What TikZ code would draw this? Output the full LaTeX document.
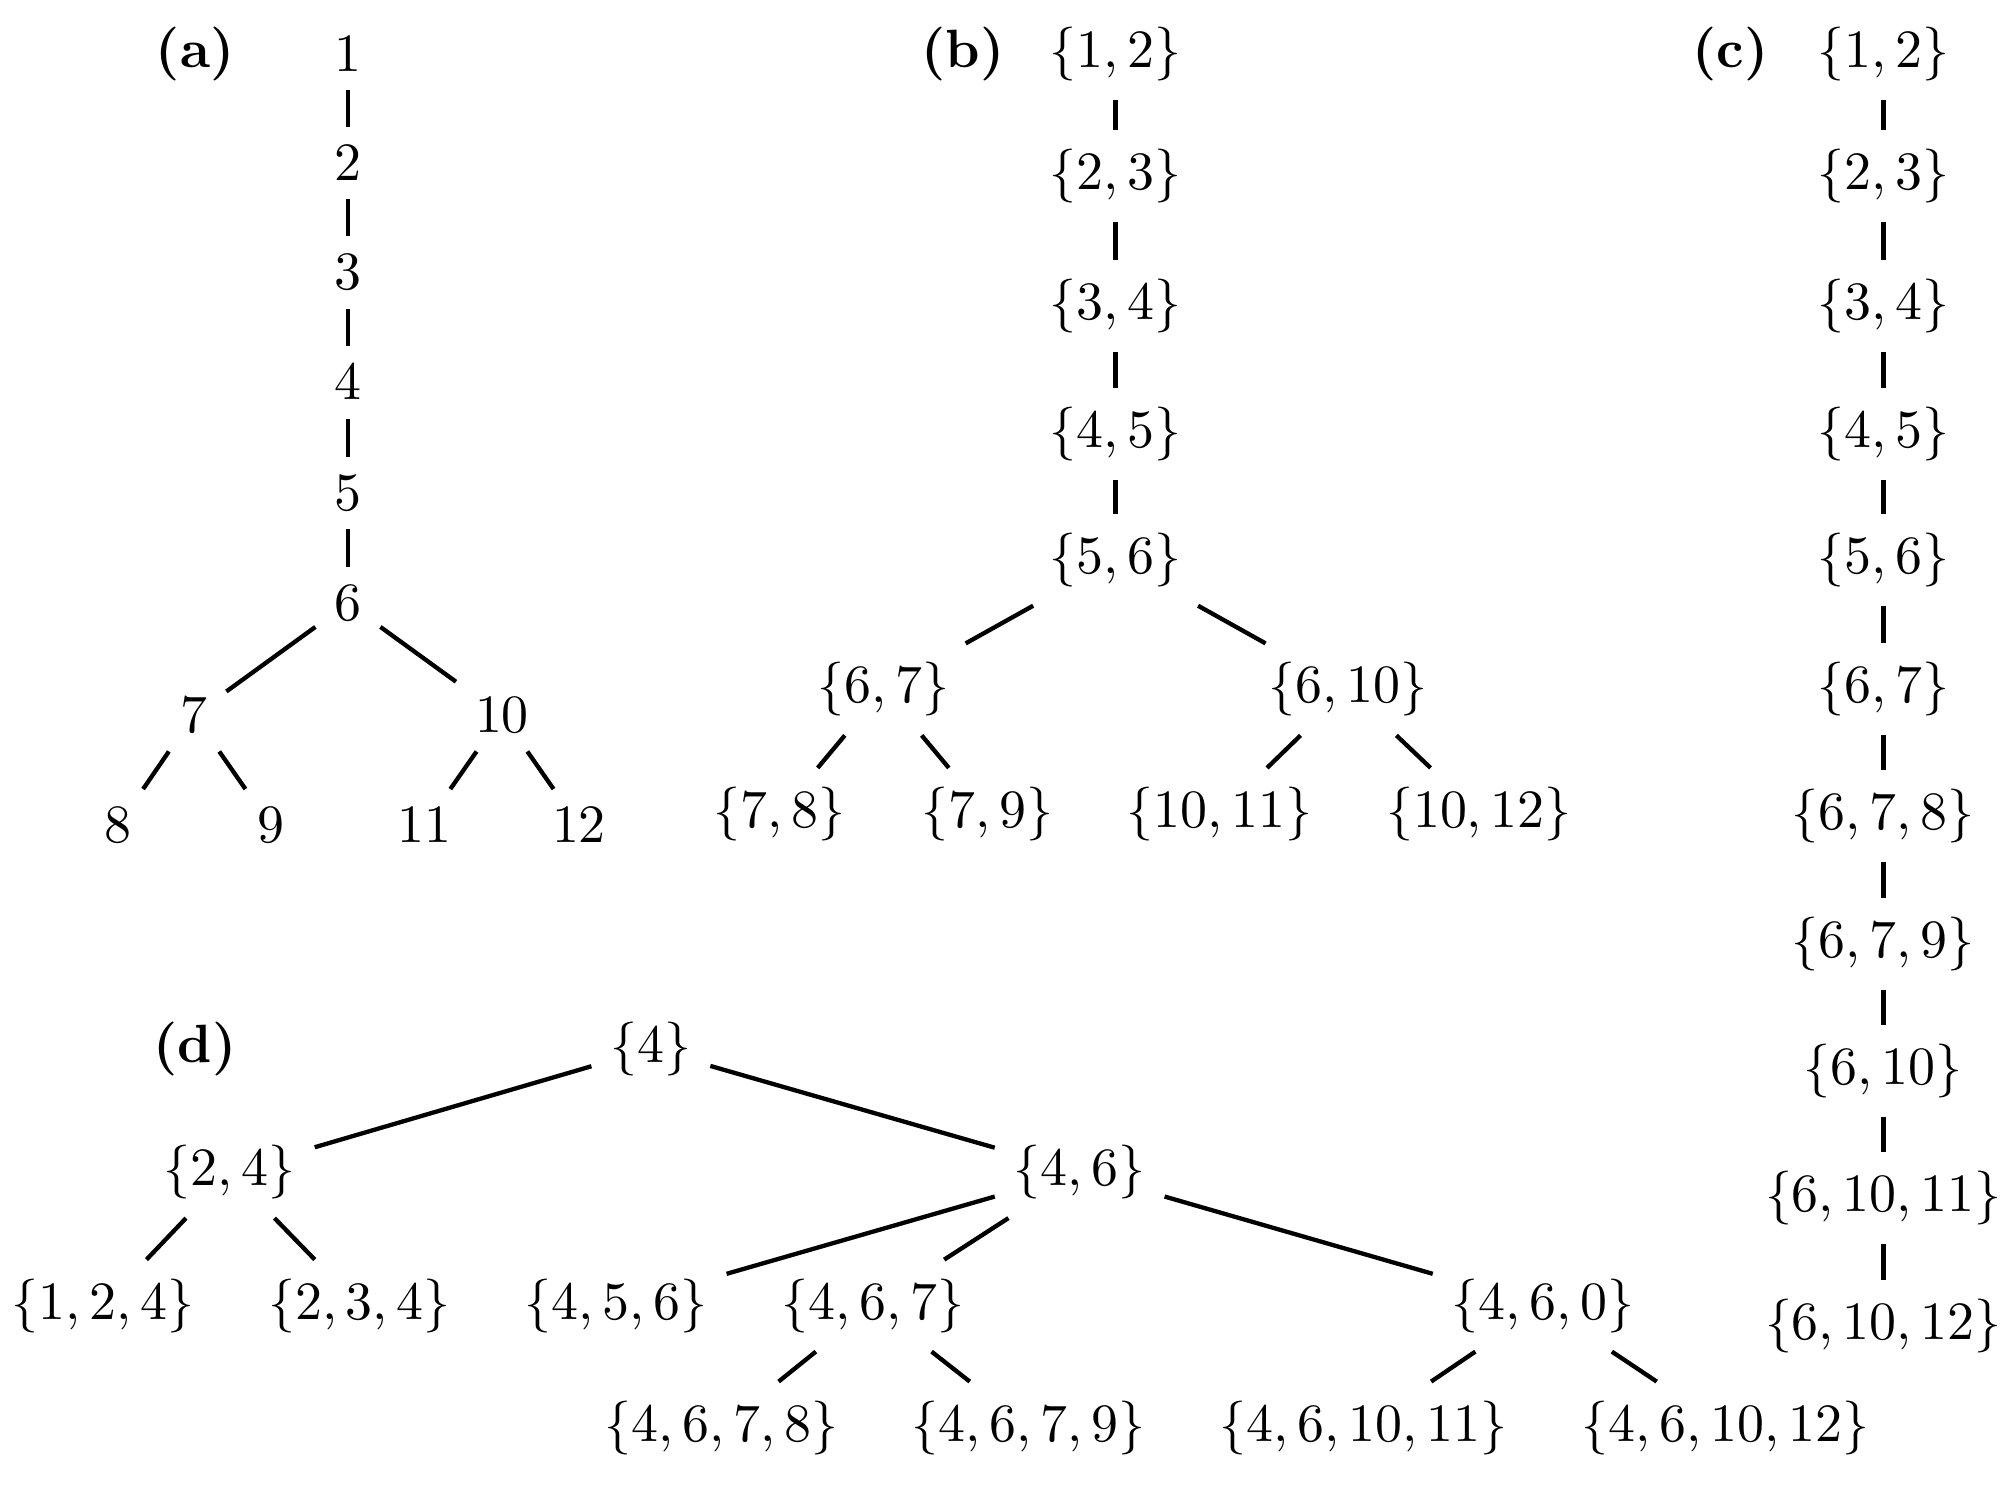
\documentclass[tikz,border=0pt]{standalone}
\usepackage{amsmath, amssymb}
\usetikzlibrary{positioning}

\begin{document}
\begin{tikzpicture}[
	x=0.0837cm, y=-0.0837cm, every node/.style={scale=1},
  tag/.style = {font=\bfseries},
  link/.style = {thick}
  ]
	\useasboundingbox (0,0) rectangle (156.8,115.6);

	% (a) tree on the vertices
	\node[tag] (ta) at (15.2,4.2) {(a)};
	\node (a1)  at (27.1, 4.2) {$1$};
	\node (a2)  at (27.1,12.7) {$2$};
	\node (a3)  at (27.1,21.2) {$3$};
	\node (a4)  at (27.1,29.8) {$4$};
	\node (a5)  at (27.1,38.4) {$5$};
	\node (a6)  at (27.1,47.0) {$6$};
	\node (a7)  at (15.1,55.7) {$7$};
	\node (a10) at (39.1,55.7) {$10$};
	\node (a8)  at ( 9.2,64.3) {$8$};
	\node (a9)  at (21.1,64.3) {$9$};
	\node (a11) at (33.1,64.3) {$11$};
	\node (a12) at (45.1,64.3) {$12$};

	\draw[link] (a1) -- (a2);
	\draw[link] (a2) -- (a3);
	\draw[link] (a3) -- (a4);
	\draw[link] (a4) -- (a5);
	\draw[link] (a5) -- (a6);
	\draw[link] (a6) -- (a7);
	\draw[link] (a6) -- (a10);
	\draw[link] (a7) -- (a8);
	\draw[link] (a7) -- (a9);
	\draw[link] (a10) -- (a11);
	\draw[link] (a10) -- (a12);

	% (b) tree on the edges
	\node[tag] (tb) at (75.0,4.2) {(b)};
	\node (b12)   at ( 86.9, 4.2) {$\{1,2\}$};
	\node (b23)   at ( 86.9,13.7) {$\{2,3\}$};
	\node (b34)   at ( 86.9,23.8) {$\{3,4\}$};
	\node (b45)   at ( 86.9,33.8) {$\{4,5\}$};
	\node (b56)   at ( 86.9,43.6) {$\{5,6\}$};
	\node (b67)   at ( 68.8,53.7) {$\{6,7\}$};
	\node (b610)  at (105.0,53.7) {$\{6,10\}$};
	\node (b78)   at ( 60.7,63.4) {$\{7,8\}$};
	\node (b79)   at ( 76.9,63.4) {$\{7,9\}$};
	\node (b1011) at ( 95.0,63.4) {$\{10,11\}$};
	\node (b1012) at (115.2,63.4) {$\{10,12\}$};

	\draw[link] (b12) -- (b23);
	\draw[link] (b23) -- (b34);
	\draw[link] (b34) -- (b45);
	\draw[link] (b45) -- (b56);
	\draw[link] (b56) -- (b67);
	\draw[link] (b56) -- (b610);
	\draw[link] (b67) -- (b78);
	\draw[link] (b67) -- (b79);
	\draw[link] (b610) -- (b1011);
	\draw[link] (b610) -- (b1012);

	% (c) path
	\node[tag] (tc) at (134.8,4.2) {(c)};
	\node (c1)  at (146.7,  4.2) {$\{1,2\}$};
	\node (c2)  at (146.7, 13.7) {$\{2,3\}$};
	\node (c3)  at (146.7, 23.8) {$\{3,4\}$};
	\node (c4)  at (146.7, 33.8) {$\{4,5\}$};
	\node (c5)  at (146.7, 43.6) {$\{5,6\}$};
	\node (c6)  at (146.7, 53.7) {$\{6,7\}$};
	\node (c7)  at (146.7, 63.6) {$\{6,7,8\}$};
	\node (c8)  at (146.7, 73.5) {$\{6,7,9\}$};
	\node (c9)  at (146.7, 83.4) {$\{6,10\}$};
	\node (c10) at (146.7, 93.3) {$\{6,10,11\}$};
	\node (c11) at (146.7,103.3) {$\{6,10,12\}$};

	\foreach \i [count=\j from 2] in {1,...,10}
		\draw[link] (c\i) -- (c\j);

	% (d) tree of separators
	\node[tag] (td) at (15.2,81.7) {(d)};
	\node (d4)      at ( 50.7, 81.7) {$\{4\}$};
	\node (d24)     at ( 17.9, 91.3) {$\{2,4\}$};
	\node (d46)     at ( 84.1, 91.3) {$\{4,6\}$};
	\node (d124)    at (  8.0,101.7) {$\{1,2,4\}$};
	\node (d234)    at ( 28.0,101.7) {$\{2,3,4\}$};
	\node (d456)    at ( 48.0,101.7) {$\{4,5,6\}$};
	\node (d467)    at ( 68.0,101.7) {$\{4,6,7\}$};
	\node (d460)    at (120.2,101.7) {$\{4,6,0\}$};
	\node (d4678)   at ( 56.2,111.2) {$\{4,6,7,8\}$};
	\node (d4679)   at ( 80.1,111.2) {$\{4,6,7,9\}$};
	\node (d461011) at (106.2,111.2) {$\{4,6,10,11\}$};
	\node (d461012) at (134.4,111.2) {$\{4,6,10,12\}$};

	\draw[link] (d4) -- (d24);
	\draw[link] (d4) -- (d46);
	\draw[link] (d24) -- (d124);
	\draw[link] (d24) -- (d234);
	\draw[link] (d46) -- (d456);
	\draw[link] (d46) -- (d467);
	\draw[link] (d46) -- (d460);
	\draw[link] (d467) -- (d4678);
	\draw[link] (d467) -- (d4679);
	\draw[link] (d460) -- (d461011);
	\draw[link] (d460) -- (d461012);

\end{tikzpicture}
\end{document}
